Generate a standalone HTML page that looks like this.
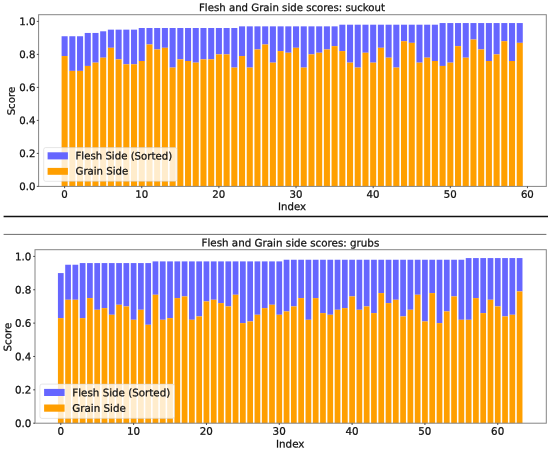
<!DOCTYPE html>
<html lang="en">
<head>
<meta charset="utf-8">
<title>Flesh and Grain side scores</title>
<style>
html,body{margin:0;padding:0;background:#ffffff;}
body{width:550px;height:450px;overflow:hidden;}
svg{display:block;}
svg text{font-family:"DejaVu Sans","Liberation Sans",sans-serif;fill:#111;stroke:#111;stroke-width:0.25px;}
</style>
</head>
<body>
<svg width="550" height="450" viewBox="0 0 550 450">
<rect x="0" y="0" width="550" height="450" fill="#ffffff"/>
<g id="chart-suckout">
<g fill="#6666ff"><rect x="61.59" y="36.25" width="6.06" height="19.80"/><rect x="69.31" y="36.25" width="6.06" height="34.65"/><rect x="77.02" y="36.25" width="6.06" height="34.65"/><rect x="84.73" y="32.95" width="6.06" height="33.00"/><rect x="92.45" y="32.95" width="6.06" height="29.70"/><rect x="100.16" y="31.30" width="6.06" height="26.40"/><rect x="107.88" y="29.65" width="6.06" height="18.15"/><rect x="115.59" y="29.65" width="6.06" height="29.70"/><rect x="123.30" y="29.65" width="6.06" height="34.65"/><rect x="131.02" y="29.65" width="6.06" height="34.65"/><rect x="138.73" y="28.00" width="6.06" height="33.00"/><rect x="146.45" y="28.00" width="6.06" height="16.50"/><rect x="154.16" y="28.00" width="6.06" height="21.45"/><rect x="161.87" y="28.00" width="6.06" height="19.80"/><rect x="169.59" y="28.00" width="6.06" height="39.60"/><rect x="177.30" y="28.00" width="6.06" height="31.35"/><rect x="185.02" y="28.00" width="6.06" height="33.00"/><rect x="192.73" y="28.00" width="6.06" height="34.65"/><rect x="200.44" y="28.00" width="6.06" height="31.35"/><rect x="208.16" y="28.00" width="6.06" height="31.35"/><rect x="215.87" y="28.00" width="6.06" height="26.40"/><rect x="223.59" y="28.00" width="6.06" height="26.40"/><rect x="231.30" y="28.00" width="6.06" height="39.60"/><rect x="239.01" y="26.35" width="6.06" height="29.70"/><rect x="246.73" y="26.35" width="6.06" height="41.25"/><rect x="254.44" y="26.35" width="6.06" height="23.10"/><rect x="262.16" y="26.35" width="6.06" height="18.15"/><rect x="269.87" y="26.35" width="6.06" height="36.30"/><rect x="277.58" y="26.35" width="6.06" height="24.75"/><rect x="285.30" y="26.35" width="6.06" height="26.40"/><rect x="293.01" y="26.35" width="6.06" height="21.45"/><rect x="300.73" y="26.35" width="6.06" height="41.25"/><rect x="308.44" y="26.35" width="6.06" height="28.05"/><rect x="316.15" y="26.35" width="6.06" height="26.40"/><rect x="323.87" y="26.35" width="6.06" height="23.10"/><rect x="331.58" y="26.35" width="6.06" height="19.80"/><rect x="339.30" y="24.70" width="6.06" height="26.40"/><rect x="347.01" y="24.70" width="6.06" height="37.95"/><rect x="354.72" y="24.70" width="6.06" height="42.90"/><rect x="362.44" y="24.70" width="6.06" height="28.05"/><rect x="370.15" y="24.70" width="6.06" height="37.95"/><rect x="377.87" y="24.70" width="6.06" height="23.10"/><rect x="385.58" y="24.70" width="6.06" height="33.00"/><rect x="393.29" y="24.70" width="6.06" height="42.90"/><rect x="401.01" y="24.70" width="6.06" height="16.50"/><rect x="408.72" y="24.70" width="6.06" height="18.15"/><rect x="416.44" y="24.70" width="6.06" height="37.95"/><rect x="424.15" y="24.70" width="6.06" height="33.00"/><rect x="431.86" y="24.70" width="6.06" height="36.30"/><rect x="439.58" y="23.05" width="6.06" height="42.90"/><rect x="447.29" y="23.05" width="6.06" height="39.60"/><rect x="455.01" y="23.05" width="6.06" height="23.10"/><rect x="462.72" y="23.05" width="6.06" height="34.65"/><rect x="470.43" y="23.05" width="6.06" height="16.50"/><rect x="478.15" y="23.05" width="6.06" height="26.40"/><rect x="485.86" y="23.05" width="6.06" height="37.95"/><rect x="493.58" y="23.05" width="6.06" height="31.35"/><rect x="501.29" y="23.05" width="6.06" height="18.15"/><rect x="509.00" y="23.05" width="6.06" height="37.95"/><rect x="516.72" y="23.05" width="6.06" height="19.80"/></g>
<g fill="#ff9f00"><rect x="61.59" y="56.05" width="6.06" height="130.35"/><rect x="69.31" y="70.90" width="6.06" height="115.50"/><rect x="77.02" y="70.90" width="6.06" height="115.50"/><rect x="84.73" y="65.95" width="6.06" height="120.45"/><rect x="92.45" y="62.65" width="6.06" height="123.75"/><rect x="100.16" y="57.70" width="6.06" height="128.70"/><rect x="107.88" y="47.80" width="6.06" height="138.60"/><rect x="115.59" y="59.35" width="6.06" height="127.05"/><rect x="123.30" y="64.30" width="6.06" height="122.10"/><rect x="131.02" y="64.30" width="6.06" height="122.10"/><rect x="138.73" y="61.00" width="6.06" height="125.40"/><rect x="146.45" y="44.50" width="6.06" height="141.90"/><rect x="154.16" y="49.45" width="6.06" height="136.95"/><rect x="161.87" y="47.80" width="6.06" height="138.60"/><rect x="169.59" y="67.60" width="6.06" height="118.80"/><rect x="177.30" y="59.35" width="6.06" height="127.05"/><rect x="185.02" y="61.00" width="6.06" height="125.40"/><rect x="192.73" y="62.65" width="6.06" height="123.75"/><rect x="200.44" y="59.35" width="6.06" height="127.05"/><rect x="208.16" y="59.35" width="6.06" height="127.05"/><rect x="215.87" y="54.40" width="6.06" height="132.00"/><rect x="223.59" y="54.40" width="6.06" height="132.00"/><rect x="231.30" y="67.60" width="6.06" height="118.80"/><rect x="239.01" y="56.05" width="6.06" height="130.35"/><rect x="246.73" y="67.60" width="6.06" height="118.80"/><rect x="254.44" y="49.45" width="6.06" height="136.95"/><rect x="262.16" y="44.50" width="6.06" height="141.90"/><rect x="269.87" y="62.65" width="6.06" height="123.75"/><rect x="277.58" y="51.10" width="6.06" height="135.30"/><rect x="285.30" y="52.75" width="6.06" height="133.65"/><rect x="293.01" y="47.80" width="6.06" height="138.60"/><rect x="300.73" y="67.60" width="6.06" height="118.80"/><rect x="308.44" y="54.40" width="6.06" height="132.00"/><rect x="316.15" y="52.75" width="6.06" height="133.65"/><rect x="323.87" y="49.45" width="6.06" height="136.95"/><rect x="331.58" y="46.15" width="6.06" height="140.25"/><rect x="339.30" y="51.10" width="6.06" height="135.30"/><rect x="347.01" y="62.65" width="6.06" height="123.75"/><rect x="354.72" y="67.60" width="6.06" height="118.80"/><rect x="362.44" y="52.75" width="6.06" height="133.65"/><rect x="370.15" y="62.65" width="6.06" height="123.75"/><rect x="377.87" y="47.80" width="6.06" height="138.60"/><rect x="385.58" y="57.70" width="6.06" height="128.70"/><rect x="393.29" y="67.60" width="6.06" height="118.80"/><rect x="401.01" y="41.20" width="6.06" height="145.20"/><rect x="408.72" y="42.85" width="6.06" height="143.55"/><rect x="416.44" y="62.65" width="6.06" height="123.75"/><rect x="424.15" y="57.70" width="6.06" height="128.70"/><rect x="431.86" y="61.00" width="6.06" height="125.40"/><rect x="439.58" y="65.95" width="6.06" height="120.45"/><rect x="447.29" y="62.65" width="6.06" height="123.75"/><rect x="455.01" y="46.15" width="6.06" height="140.25"/><rect x="462.72" y="57.70" width="6.06" height="128.70"/><rect x="470.43" y="39.55" width="6.06" height="146.85"/><rect x="478.15" y="49.45" width="6.06" height="136.95"/><rect x="485.86" y="61.00" width="6.06" height="125.40"/><rect x="493.58" y="54.40" width="6.06" height="132.00"/><rect x="501.29" y="41.20" width="6.06" height="145.20"/><rect x="509.00" y="61.00" width="6.06" height="125.40"/><rect x="516.72" y="42.85" width="6.06" height="143.55"/></g>
<rect x="43.70" y="147.55" width="133.30" height="33.75" rx="2" ry="2" fill="#ffffff" fill-opacity="0.8" stroke="#cccccc" stroke-opacity="0.8" stroke-width="0.6"/>
<rect x="47.60" y="152.30" width="20.30" height="7.10" fill="#6666ff"/>
<rect x="47.60" y="167.90" width="20.30" height="6.90" fill="#ff9f00"/>
<text transform="translate(75.50,159.35) rotate(0.03)" font-size="10.18">Flesh Side (Sorted)</text>
<text transform="translate(75.50,174.60) rotate(0.03)" font-size="10.18">Grain Side</text>
<rect x="38.60" y="14.70" width="507.70" height="171.70" fill="none" stroke="#858585" stroke-width="1"/>
<text transform="translate(64.52,197.70) rotate(0.03)" font-size="10.18" text-anchor="middle">0</text>
<text transform="translate(141.66,197.70) rotate(0.03)" font-size="10.18" text-anchor="middle">10</text>
<text transform="translate(218.80,197.70) rotate(0.03)" font-size="10.18" text-anchor="middle">20</text>
<text transform="translate(295.94,197.70) rotate(0.03)" font-size="10.18" text-anchor="middle">30</text>
<text transform="translate(373.08,197.70) rotate(0.03)" font-size="10.18" text-anchor="middle">40</text>
<text transform="translate(450.22,197.70) rotate(0.03)" font-size="10.18" text-anchor="middle">50</text>
<text transform="translate(527.36,197.70) rotate(0.03)" font-size="10.18" text-anchor="middle">60</text>
<text transform="translate(35.50,190.10) rotate(0.03)" font-size="10.18" text-anchor="end">0.0</text>
<text transform="translate(35.50,157.10) rotate(0.03)" font-size="10.18" text-anchor="end">0.2</text>
<text transform="translate(35.50,124.10) rotate(0.03)" font-size="10.18" text-anchor="end">0.4</text>
<text transform="translate(35.50,91.10) rotate(0.03)" font-size="10.18" text-anchor="end">0.6</text>
<text transform="translate(35.50,58.10) rotate(0.03)" font-size="10.18" text-anchor="end">0.8</text>
<text transform="translate(35.50,25.10) rotate(0.03)" font-size="10.18" text-anchor="end">1.0</text>
<g stroke="#222" stroke-width="0.8"><line x1="64.62" y1="186.40" x2="64.62" y2="188.20"/><line x1="141.76" y1="186.40" x2="141.76" y2="188.20"/><line x1="218.90" y1="186.40" x2="218.90" y2="188.20"/><line x1="296.04" y1="186.40" x2="296.04" y2="188.20"/><line x1="373.18" y1="186.40" x2="373.18" y2="188.20"/><line x1="450.32" y1="186.40" x2="450.32" y2="188.20"/><line x1="527.46" y1="186.40" x2="527.46" y2="188.20"/><line x1="38.60" y1="186.40" x2="36.80" y2="186.40"/><line x1="38.60" y1="153.40" x2="36.80" y2="153.40"/><line x1="38.60" y1="120.40" x2="36.80" y2="120.40"/><line x1="38.60" y1="87.40" x2="36.80" y2="87.40"/><line x1="38.60" y1="54.40" x2="36.80" y2="54.40"/><line x1="38.60" y1="21.40" x2="36.80" y2="21.40"/></g>
<text transform="translate(292.00,11.00) rotate(0.03)" font-size="10.18" text-anchor="middle">Flesh and Grain side scores: suckout</text>
<text transform="translate(292.00,210.00) rotate(0.03)" font-size="10.18" text-anchor="middle">Index</text>
<text transform="translate(14.70,101.10) rotate(-89.97)" font-size="10.18" text-anchor="middle">Score</text>
</g>
<line x1="3.6" y1="216.5" x2="548" y2="216.5" stroke="#111" stroke-width="1.3"/>
<line x1="3.6" y1="234.4" x2="546.4" y2="234.4" stroke="#484848" stroke-width="0.8"/>
<g id="chart-grubs">
<g fill="#6666ff"><rect x="57.92" y="273.08" width="5.72" height="45.04"/><rect x="65.20" y="264.74" width="5.72" height="35.03"/><rect x="72.49" y="264.74" width="5.72" height="35.03"/><rect x="79.77" y="263.07" width="5.72" height="55.04"/><rect x="87.05" y="263.07" width="5.72" height="35.03"/><rect x="94.34" y="263.07" width="5.72" height="46.70"/><rect x="101.62" y="263.07" width="5.72" height="45.04"/><rect x="108.90" y="263.07" width="5.72" height="51.71"/><rect x="116.19" y="263.07" width="5.72" height="41.70"/><rect x="123.47" y="263.07" width="5.72" height="43.37"/><rect x="130.75" y="263.07" width="5.72" height="56.71"/><rect x="138.03" y="263.07" width="5.72" height="46.70"/><rect x="145.32" y="263.07" width="5.72" height="61.72"/><rect x="152.60" y="261.40" width="5.72" height="33.36"/><rect x="159.88" y="261.40" width="5.72" height="58.38"/><rect x="167.17" y="261.40" width="5.72" height="56.71"/><rect x="174.45" y="261.40" width="5.72" height="36.70"/><rect x="181.73" y="261.40" width="5.72" height="35.03"/><rect x="189.02" y="261.40" width="5.72" height="58.38"/><rect x="196.30" y="261.40" width="5.72" height="55.04"/><rect x="203.58" y="261.40" width="5.72" height="40.03"/><rect x="210.86" y="261.40" width="5.72" height="38.36"/><rect x="218.15" y="261.40" width="5.72" height="41.70"/><rect x="225.43" y="261.40" width="5.72" height="45.04"/><rect x="232.71" y="261.40" width="5.72" height="33.36"/><rect x="240.00" y="261.40" width="5.72" height="61.72"/><rect x="247.28" y="261.40" width="5.72" height="60.05"/><rect x="254.56" y="261.40" width="5.72" height="53.38"/><rect x="261.85" y="261.40" width="5.72" height="46.70"/><rect x="269.13" y="261.40" width="5.72" height="43.37"/><rect x="276.41" y="261.40" width="5.72" height="53.38"/><rect x="283.69" y="259.74" width="5.72" height="51.71"/><rect x="290.98" y="259.74" width="5.72" height="46.70"/><rect x="298.26" y="259.74" width="5.72" height="38.36"/><rect x="305.54" y="259.74" width="5.72" height="60.05"/><rect x="312.83" y="259.74" width="5.72" height="38.36"/><rect x="320.11" y="259.74" width="5.72" height="53.38"/><rect x="327.39" y="259.74" width="5.72" height="55.04"/><rect x="334.68" y="259.74" width="5.72" height="50.04"/><rect x="341.96" y="259.74" width="5.72" height="48.37"/><rect x="349.24" y="259.74" width="5.72" height="36.70"/><rect x="356.52" y="259.74" width="5.72" height="50.04"/><rect x="363.81" y="259.74" width="5.72" height="46.70"/><rect x="371.09" y="259.74" width="5.72" height="53.38"/><rect x="378.37" y="259.74" width="5.72" height="33.36"/><rect x="385.66" y="259.74" width="5.72" height="43.37"/><rect x="392.94" y="259.74" width="5.72" height="40.03"/><rect x="400.22" y="259.74" width="5.72" height="56.71"/><rect x="407.51" y="259.74" width="5.72" height="50.04"/><rect x="414.79" y="259.74" width="5.72" height="35.03"/><rect x="422.07" y="259.74" width="5.72" height="61.72"/><rect x="429.35" y="259.74" width="5.72" height="33.36"/><rect x="436.64" y="259.74" width="5.72" height="63.38"/><rect x="443.92" y="259.74" width="5.72" height="51.71"/><rect x="451.20" y="259.74" width="5.72" height="36.70"/><rect x="458.49" y="259.74" width="5.72" height="60.05"/><rect x="465.77" y="258.07" width="5.72" height="61.72"/><rect x="473.05" y="258.07" width="5.72" height="40.03"/><rect x="480.34" y="258.07" width="5.72" height="55.04"/><rect x="487.62" y="258.07" width="5.72" height="41.70"/><rect x="494.90" y="258.07" width="5.72" height="48.37"/><rect x="502.18" y="258.07" width="5.72" height="58.38"/><rect x="509.47" y="258.07" width="5.72" height="56.71"/><rect x="516.75" y="258.07" width="5.72" height="33.36"/></g>
<g fill="#ff9f00"><rect x="57.92" y="318.12" width="5.72" height="105.08"/><rect x="65.20" y="299.77" width="5.72" height="123.43"/><rect x="72.49" y="299.77" width="5.72" height="123.43"/><rect x="79.77" y="318.12" width="5.72" height="105.08"/><rect x="87.05" y="298.10" width="5.72" height="125.10"/><rect x="94.34" y="309.78" width="5.72" height="113.42"/><rect x="101.62" y="308.11" width="5.72" height="115.09"/><rect x="108.90" y="314.78" width="5.72" height="108.42"/><rect x="116.19" y="304.77" width="5.72" height="118.43"/><rect x="123.47" y="306.44" width="5.72" height="116.76"/><rect x="130.75" y="319.78" width="5.72" height="103.42"/><rect x="138.03" y="309.78" width="5.72" height="113.42"/><rect x="145.32" y="324.79" width="5.72" height="98.41"/><rect x="152.60" y="294.76" width="5.72" height="128.44"/><rect x="159.88" y="319.78" width="5.72" height="103.42"/><rect x="167.17" y="318.12" width="5.72" height="105.08"/><rect x="174.45" y="298.10" width="5.72" height="125.10"/><rect x="181.73" y="296.43" width="5.72" height="126.77"/><rect x="189.02" y="319.78" width="5.72" height="103.42"/><rect x="196.30" y="316.45" width="5.72" height="106.75"/><rect x="203.58" y="301.44" width="5.72" height="121.76"/><rect x="210.86" y="299.77" width="5.72" height="123.43"/><rect x="218.15" y="303.10" width="5.72" height="120.10"/><rect x="225.43" y="306.44" width="5.72" height="116.76"/><rect x="232.71" y="294.76" width="5.72" height="128.44"/><rect x="240.00" y="323.12" width="5.72" height="100.08"/><rect x="247.28" y="321.45" width="5.72" height="101.75"/><rect x="254.56" y="314.78" width="5.72" height="108.42"/><rect x="261.85" y="308.11" width="5.72" height="115.09"/><rect x="269.13" y="304.77" width="5.72" height="118.43"/><rect x="276.41" y="314.78" width="5.72" height="108.42"/><rect x="283.69" y="311.44" width="5.72" height="111.76"/><rect x="290.98" y="306.44" width="5.72" height="116.76"/><rect x="298.26" y="298.10" width="5.72" height="125.10"/><rect x="305.54" y="319.78" width="5.72" height="103.42"/><rect x="312.83" y="298.10" width="5.72" height="125.10"/><rect x="320.11" y="313.11" width="5.72" height="110.09"/><rect x="327.39" y="314.78" width="5.72" height="108.42"/><rect x="334.68" y="309.78" width="5.72" height="113.42"/><rect x="341.96" y="308.11" width="5.72" height="115.09"/><rect x="349.24" y="296.43" width="5.72" height="126.77"/><rect x="356.52" y="309.78" width="5.72" height="113.42"/><rect x="363.81" y="306.44" width="5.72" height="116.76"/><rect x="371.09" y="313.11" width="5.72" height="110.09"/><rect x="378.37" y="293.10" width="5.72" height="130.10"/><rect x="385.66" y="303.10" width="5.72" height="120.10"/><rect x="392.94" y="299.77" width="5.72" height="123.43"/><rect x="400.22" y="316.45" width="5.72" height="106.75"/><rect x="407.51" y="309.78" width="5.72" height="113.42"/><rect x="414.79" y="294.76" width="5.72" height="128.44"/><rect x="422.07" y="321.45" width="5.72" height="101.75"/><rect x="429.35" y="293.10" width="5.72" height="130.10"/><rect x="436.64" y="323.12" width="5.72" height="100.08"/><rect x="443.92" y="311.44" width="5.72" height="111.76"/><rect x="451.20" y="296.43" width="5.72" height="126.77"/><rect x="458.49" y="319.78" width="5.72" height="103.42"/><rect x="465.77" y="319.78" width="5.72" height="103.42"/><rect x="473.05" y="298.10" width="5.72" height="125.10"/><rect x="480.34" y="313.11" width="5.72" height="110.09"/><rect x="487.62" y="299.77" width="5.72" height="123.43"/><rect x="494.90" y="306.44" width="5.72" height="116.76"/><rect x="502.18" y="316.45" width="5.72" height="106.75"/><rect x="509.47" y="314.78" width="5.72" height="108.42"/><rect x="516.75" y="291.43" width="5.72" height="131.77"/></g>
<rect x="39.90" y="384.10" width="134.60" height="34.30" rx="2" ry="2" fill="#ffffff" fill-opacity="0.8" stroke="#cccccc" stroke-opacity="0.8" stroke-width="0.6"/>
<rect x="44.10" y="388.90" width="20.50" height="7.10" fill="#6666ff"/>
<rect x="44.10" y="404.50" width="20.50" height="7.20" fill="#ff9f00"/>
<text transform="translate(72.30,396.20) rotate(0.03)" font-size="10.32">Flesh Side (Sorted)</text>
<text transform="translate(72.30,411.70) rotate(0.03)" font-size="10.32">Grain Side</text>
<rect x="35.00" y="249.70" width="511.30" height="173.50" fill="none" stroke="#858585" stroke-width="1"/>
<text transform="translate(60.68,434.70) rotate(0.03)" font-size="10.32" text-anchor="middle">0</text>
<text transform="translate(133.51,434.70) rotate(0.03)" font-size="10.32" text-anchor="middle">10</text>
<text transform="translate(206.34,434.70) rotate(0.03)" font-size="10.32" text-anchor="middle">20</text>
<text transform="translate(279.17,434.70) rotate(0.03)" font-size="10.32" text-anchor="middle">30</text>
<text transform="translate(352.00,434.70) rotate(0.03)" font-size="10.32" text-anchor="middle">40</text>
<text transform="translate(424.83,434.70) rotate(0.03)" font-size="10.32" text-anchor="middle">50</text>
<text transform="translate(497.66,434.70) rotate(0.03)" font-size="10.32" text-anchor="middle">60</text>
<text transform="translate(31.40,426.95) rotate(0.03)" font-size="10.32" text-anchor="end">0.0</text>
<text transform="translate(31.40,393.59) rotate(0.03)" font-size="10.32" text-anchor="end">0.2</text>
<text transform="translate(31.40,360.23) rotate(0.03)" font-size="10.32" text-anchor="end">0.4</text>
<text transform="translate(31.40,326.87) rotate(0.03)" font-size="10.32" text-anchor="end">0.6</text>
<text transform="translate(31.40,293.51) rotate(0.03)" font-size="10.32" text-anchor="end">0.8</text>
<text transform="translate(31.40,260.15) rotate(0.03)" font-size="10.32" text-anchor="end">1.0</text>
<g stroke="#222" stroke-width="0.8"><line x1="60.78" y1="423.20" x2="60.78" y2="425.00"/><line x1="133.61" y1="423.20" x2="133.61" y2="425.00"/><line x1="206.44" y1="423.20" x2="206.44" y2="425.00"/><line x1="279.27" y1="423.20" x2="279.27" y2="425.00"/><line x1="352.10" y1="423.20" x2="352.10" y2="425.00"/><line x1="424.93" y1="423.20" x2="424.93" y2="425.00"/><line x1="497.76" y1="423.20" x2="497.76" y2="425.00"/><line x1="35.00" y1="423.20" x2="33.20" y2="423.20"/><line x1="35.00" y1="389.84" x2="33.20" y2="389.84"/><line x1="35.00" y1="356.48" x2="33.20" y2="356.48"/><line x1="35.00" y1="323.12" x2="33.20" y2="323.12"/><line x1="35.00" y1="289.76" x2="33.20" y2="289.76"/><line x1="35.00" y1="256.40" x2="33.20" y2="256.40"/></g>
<text transform="translate(290.40,246.40) rotate(0.03)" font-size="10.32" text-anchor="middle">Flesh and Grain side scores: grubs</text>
<text transform="translate(290.20,447.50) rotate(0.03)" font-size="10.32" text-anchor="middle">Index</text>
<text transform="translate(11.30,337.10) rotate(-89.97)" font-size="10.32" text-anchor="middle">Score</text>
</g>
</svg>
</body>
</html>
